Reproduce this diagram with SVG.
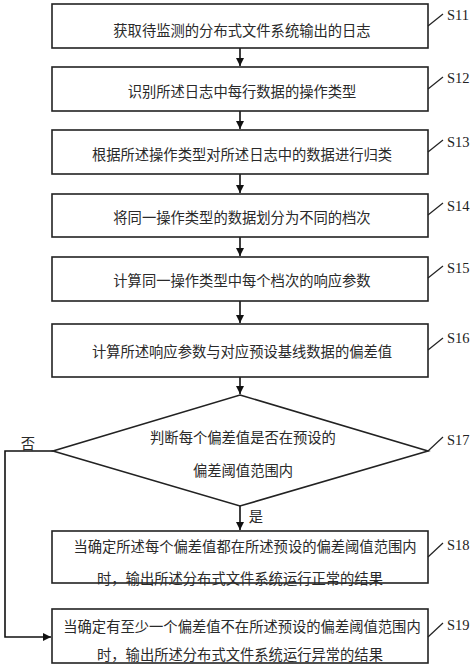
<svg xmlns="http://www.w3.org/2000/svg" width="474" height="668" viewBox="0 0 474 668">
<defs>
<marker id="ah" markerWidth="10" markerHeight="10" refX="9" refY="5" orient="auto" markerUnits="userSpaceOnUse">
<path d="M1,1 L9,5 L1,9 Z" fill="#111"/>
</marker>
<style>
.box{fill:#fff;stroke:#222;stroke-width:1.6}
.t{font-family:"Noto Sans CJK SC","Noto Sans CJK JP",sans-serif;font-size:14.3px;fill:#2a2a2a;text-anchor:middle;dominant-baseline:central}
.lab{font-family:"Liberation Serif",serif;font-size:14.5px;fill:#222}
.tick{stroke:#222;stroke-width:1.2;fill:none}
.c{stroke:#111;stroke-width:1.6;fill:none}
</style>
</defs>
<rect width="474" height="668" fill="#fff"/>
<g id="connectors">
<line class="c" x1="240" y1="48" x2="240" y2="66" marker-end="url(#ah)"/>
<line class="c" x1="240" y1="111" x2="240" y2="129" marker-end="url(#ah)"/>
<line class="c" x1="240" y1="174" x2="240" y2="193" marker-end="url(#ah)"/>
<line class="c" x1="240" y1="237" x2="240" y2="256" marker-end="url(#ah)"/>
<line class="c" x1="240" y1="301" x2="240" y2="323" marker-end="url(#ah)"/>
<line class="c" x1="240" y1="377" x2="240" y2="394" marker-end="url(#ah)"/>
<line class="c" x1="240" y1="506" x2="240" y2="530" marker-end="url(#ah)"/>
<polyline class="c" points="53,451 5,451 5,637 51,637" marker-end="url(#ah)"/>
<text class="t" x="28" y="442">否</text>
<text class="t" x="256" y="515">是</text>
</g>
<g id="S11">
<rect class="box" x="52" y="4" width="376" height="44"/>
<text class="t" x="242" y="29">获取待监测的分布式文件系统输出的日志</text>
<line class="tick" x1="428" y1="26" x2="443" y2="14"/>
<text class="lab" x="447" y="20">S11</text>
</g>
<g id="S12">
<rect class="box" x="52" y="67" width="376" height="44"/>
<text class="t" x="242" y="90">识别所述日志中每行数据的操作类型</text>
<line class="tick" x1="428" y1="89" x2="443" y2="77"/>
<text class="lab" x="447" y="83">S12</text>
</g>
<g id="S13">
<rect class="box" x="52" y="130" width="376" height="44"/>
<text class="t" x="242" y="153">根据所述操作类型对所述日志中的数据进行归类</text>
<line class="tick" x1="428" y1="152" x2="443" y2="140"/>
<text class="lab" x="447" y="147">S13</text>
</g>
<g id="S14">
<rect class="box" x="52" y="194" width="376" height="43"/>
<text class="t" x="242" y="216">将同一操作类型的数据划分为不同的档次</text>
<line class="tick" x1="428" y1="215" x2="443" y2="203"/>
<text class="lab" x="447" y="211">S14</text>
</g>
<g id="S15">
<rect class="box" x="52" y="257" width="376" height="44"/>
<text class="t" x="242" y="279">计算同一操作类型中每个档次的响应参数</text>
<line class="tick" x1="428" y1="278" x2="443" y2="266"/>
<text class="lab" x="447" y="273">S15</text>
</g>
<g id="S16">
<rect class="box" x="52" y="324" width="376" height="53"/>
<text class="t" x="242" y="350">计算所述响应参数与对应预设基线数据的偏差值</text>
<line class="tick" x1="428" y1="350" x2="443" y2="338"/>
<text class="lab" x="447" y="343">S16</text>
</g>
<g id="S17">
<polygon class="box" points="240,395 428,451 240,506 53,451"/>
<text class="t" x="243" y="436">判断每个偏差值是否在预设的</text>
<text class="t" x="243" y="469">偏差阈值范围内</text>
<line class="tick" x1="428" y1="451" x2="443" y2="437"/>
<text class="lab" x="447" y="445">S17</text>
</g>
<g id="S18">
<rect class="box" x="52" y="531" width="376" height="52"/>
<text class="t" x="245" y="545">当确定所述每个偏差值都在所述预设的偏差阈值范围内</text>
<text class="t" x="240" y="577">时，输出所述分布式文件系统运行正常的结果</text>
<line class="tick" x1="428" y1="557" x2="443" y2="543"/>
<text class="lab" x="447" y="550">S18</text>
</g>
<g id="S19">
<rect class="box" x="52" y="609" width="376" height="54"/>
<text class="t" x="242" y="625">当确定有至少一个偏差值不在所述预设的偏差阈值范围内</text>
<text class="t" x="240" y="653">时，输出所述分布式文件系统运行异常的结果</text>
<line class="tick" x1="428" y1="637" x2="443" y2="623"/>
<text class="lab" x="447" y="630">S19</text>
</g>
</svg>
